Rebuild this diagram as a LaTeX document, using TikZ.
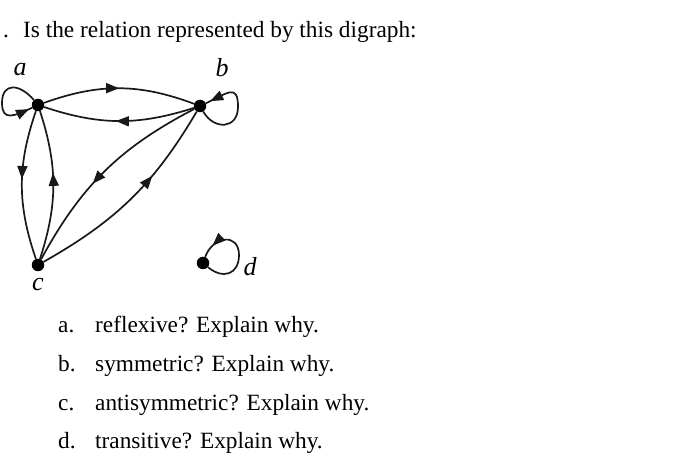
\documentclass[tikz,border=0pt]{standalone}
\usepackage{fontspec}
\setmainfont{Liberation Serif}
\usetikzlibrary{arrows.meta,decorations.markings}
\begin{document}
\begin{tikzpicture}[x=1pt,y=1pt,
  txt/.style={anchor=base west,inner sep=0pt,font=\fontsize{23.3}{28}\selectfont},
  lbl/.style={inner sep=0pt,font=\fontsize{26}{30}\selectfont\itshape},
  vtx/.style={circle,fill=black,inner sep=0pt,minimum size=12.5pt},
  edge/.style={line width=1.7pt,black!90},
  midarrow/.style={postaction={decorate},decoration={markings,mark=at position #1 with {\arrow{Triangle[length=13pt,width=10pt]}}}}
]
\useasboundingbox (0,0) rectangle (700,463);
% vertices
\node[vtx] (a) at (38,358) {};
\node[vtx] (b) at (200,357) {};
\node[vtx] (c) at (38,198) {};
\node[vtx] (d) at (203,200) {};
% loop turning points
\coordinate (aO) at (2,360);
\coordinate (bO) at (238,356);
\coordinate (dO) at (239,208);
% vertex labels
\node[lbl] (la) at (20,393) {a};
\node[lbl] (lb) at (222,395) {b};
\node[lbl] (lc) at (38,178) {c};
\node[lbl] (ld) at (250,196) {d};
% edges
\draw[edge,midarrow=0.5] (a) to[bend left=20] (b);
\draw[edge,midarrow=0.52] (b) to[bend left=18] (a);
\draw[edge,midarrow=0.46] (a) to[bend right=19] (c);
\draw[edge,midarrow=0.58] (c) to[bend right=18] (a);
\draw[edge,midarrow=0.58] (b) to[bend right=17] (c);
\draw[edge,midarrow=0.64] (c) to[bend right=15] (b);
% loops
\draw[edge,midarrow=0.96] (a) to[out=130,in=90,looseness=1.7] (aO) to[out=-90,in=205,looseness=1.6] (a);
\draw[edge,midarrow=0.95] (b) to[out=-60,in=-90,looseness=1.6] (bO) to[out=90,in=25,looseness=1.9] (b);
\draw[edge,midarrow=0.86] (d) to[out=-40,in=-90,looseness=1.5] (dO) to[out=90,in=70,looseness=1.7] (d);
% text
\node[txt] (dot) at (3,425) {.};
\node[txt] (q) at (23,425) {Is the relation represented by this digraph:};
\node[txt] (ia) at (58,131) {a.};
\node[txt] (ta) at (95,131) {reflexive? Explain why.};
\node[txt] (ib) at (58,92) {b.};
\node[txt] (tb) at (95,92) {symmetric? Explain why.};
\node[txt] (ic) at (58,53) {c.};
\node[txt] (tc) at (95,53) {antisymmetric? Explain why.};
\node[txt] (id) at (58,15) {d.};
\node[txt] (td) at (95,15) {transitive? Explain why.};
\end{tikzpicture}
\end{document}
